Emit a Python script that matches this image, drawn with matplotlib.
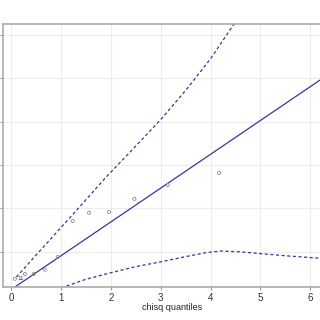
import matplotlib.pyplot as plt
import numpy as np

plt.rcParams['font.family'] = ['Liberation Sans', 'DejaVu Sans']

# qq points (chisq quantiles vs distances)
qx = [0.07, 0.27, 0.45, 0.67, 0.93, 1.23, 1.56, 1.96, 2.47, 3.14, 4.17]
qy = [0.38, 0.49, 0.49, 0.59, 0.88, 1.71, 1.90, 1.92, 2.22, 2.54, 2.82]
lab_pt = '11'

# reference line
line_a, line_b = 0.136, 0.778

# confidence envelope
up_x = [0.1, 0.6, 1.2, 1.9, 2.5, 3.0, 3.5, 4.0, 4.5]
up_y = [0.42, 1.06, 1.82, 2.72, 3.44, 4.05, 4.72, 5.45, 6.3]
lo_x = [1.0, 1.5, 2.0, 2.5, 3.0, 3.5, 3.9, 4.2, 4.6, 5.0, 5.5, 6.1, 6.6]
lo_y = [0.17, 0.37, 0.52, 0.66, 0.77, 0.89, 0.98, 1.02, 1.0, 0.96, 0.91, 0.86, 0.83]

fig = plt.figure(figsize=(3.2, 3.2), dpi=100)
ax = fig.add_axes([3/320, 33/320, 338/320, 263/320])

col = '#3535aa'
ax.grid(True, color='#ececec', lw=0.8)
ax.set_axisbelow(True)

xx = np.linspace(-0.2, 6.7, 50)
ax.plot(xx, line_a + line_b*xx, c=col, lw=0.9)
ax.plot(up_x, up_y, c=col, lw=0.9, ls=(0, (2.5, 2)))
ax.plot(lo_x, lo_y, c=col, lw=0.9, ls=(0, (2.5, 2)))
ax.scatter(qx, qy, s=5, facecolors='none', edgecolors='#8a8a8a', linewidths=0.6, zorder=3)
ax.text(qx[0]+0.06, qy[0], lab_pt, fontsize=4.5, color='#444444', va='center', ha='left')

ax.set_xlim(-0.17, 6.62)
ax.set_ylim(0.19, 6.25)
ax.set_xticks(range(7))
ax.set_yticks(range(1, 7))
ax.tick_params(labelleft=False, length=2.5, color='#999999', labelsize=7, pad=1.5, labelcolor='#333333')
ax.set_xlabel('chisq quantiles', fontsize=6.5, labelpad=0, color='#222222')
for s in ['left', 'bottom', 'top']:
    ax.spines[s].set_color('#aaaaaa')
    ax.spines[s].set_linewidth(1.2)
ax.spines['right'].set_visible(False)

fig.savefig('out.png', dpi=100)
